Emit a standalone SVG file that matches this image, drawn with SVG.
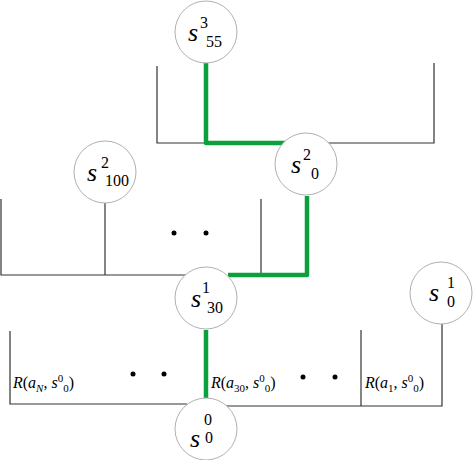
<svg xmlns="http://www.w3.org/2000/svg" width="474" height="460" viewBox="0 0 474 460">
<style>
.node{fill:#fff;stroke:#b0b0b0;stroke-width:1}
.ln{fill:none;stroke:#333;stroke-width:1.2}
.gr{fill:none;stroke:#0aa03c;stroke-width:4.5;stroke-linejoin:round}
text{font-family:'Liberation Serif','Times New Roman','DejaVu Serif',serif;fill:#000}
.s{font-style:italic;font-size:26px}
.n{font-size:16px}
.lab{font-size:16px}
.it{font-style:italic}
.sm{font-size:11px}
.dot{fill:#000}
</style>
<rect width="474" height="460" fill="#fff"/>
<g id="connectors">
<path class="ln" d="M157,66 V143 H206"/>
<path class="ln" d="M328,143 H434 V63"/>
<path class="ln" d="M1,199 V275 H186"/>
<path class="ln" d="M228,275 H261 V199"/>
<path class="ln" d="M105,203 V275"/>
<path class="ln" d="M10,331 V404 H187"/>
<path class="ln" d="M226,406 H442 V324"/>
<path class="ln" d="M361,330 V406"/>
<path class="gr" d="M206,63 V143 H286"/>
<path class="gr" d="M307,196 V275 H228"/>
<path class="gr" d="M206,330 V398"/>
</g>
<g id="dots">
<circle class="dot" cx="174" cy="233" r="2.5"/>
<circle class="dot" cx="206" cy="233" r="2.5"/>
<circle class="dot" cx="133" cy="374" r="2.5"/>
<circle class="dot" cx="164" cy="374" r="2.5"/>
<circle class="dot" cx="303" cy="377" r="2.5"/>
<circle class="dot" cx="335" cy="377" r="2.5"/>
</g>
<g id="n_s3_55">
<circle class="node" cx="206" cy="32" r="31"/>
<text class="s" x="188" y="41">s</text>
<text class="n" x="200" y="28">3</text>
<text class="n" x="206" y="47">55</text>
</g>
<g id="n_s2_0">
<circle class="node" cx="306" cy="164" r="31"/>
<text class="s" x="291" y="173">s</text>
<text class="n" x="303" y="160">2</text>
<text class="n" x="311" y="179">0</text>
</g>
<g id="n_s2_100">
<circle class="node" cx="105" cy="172" r="31"/>
<text class="s" x="87" y="181">s</text>
<text class="n" x="101" y="168">2</text>
<text class="n" x="105" y="186">100</text>
</g>
<g id="n_s1_30">
<circle class="node" cx="206" cy="298" r="31"/>
<text class="s" x="191" y="307">s</text>
<text class="n" x="202" y="293">1</text>
<text class="n" x="207" y="313">30</text>
</g>
<g id="n_s1_0">
<circle class="node" cx="441" cy="293" r="31"/>
<text class="s" x="429" y="301">s</text>
<text class="n" x="447" y="288">1</text>
<text class="n" x="447" y="307">0</text>
</g>
<g id="n_s0_0">
<circle class="node" cx="206" cy="429" r="31"/>
<text class="s" x="190" y="447">s</text>
<text class="n" x="204" y="425">0</text>
<text class="n" x="205" y="443">0</text>
</g>
<g id="labels">
<text class="lab" x="13" y="388"><tspan class="it">R</tspan>(<tspan class="it">a</tspan><tspan class="it sm" dy="4">N</tspan><tspan dy="-4">, </tspan><tspan class="it">s</tspan><tspan class="sm" dy="-6">0</tspan><tspan class="sm" dy="10">0</tspan><tspan dy="-4">)</tspan></text>
<text class="lab" x="211" y="388"><tspan class="it">R</tspan>(<tspan class="it">a</tspan><tspan class="sm" dy="4">30</tspan><tspan dy="-4">, </tspan><tspan class="it">s</tspan><tspan class="sm" dy="-6">0</tspan><tspan class="sm" dy="10">0</tspan><tspan dy="-4">)</tspan></text>
<text class="lab" x="365" y="388"><tspan class="it">R</tspan>(<tspan class="it">a</tspan><tspan class="sm" dy="4">1</tspan><tspan dy="-4">, </tspan><tspan class="it">s</tspan><tspan class="sm" dy="-6">0</tspan><tspan class="sm" dy="10">0</tspan><tspan dy="-4">)</tspan></text>
</g>
</svg>
